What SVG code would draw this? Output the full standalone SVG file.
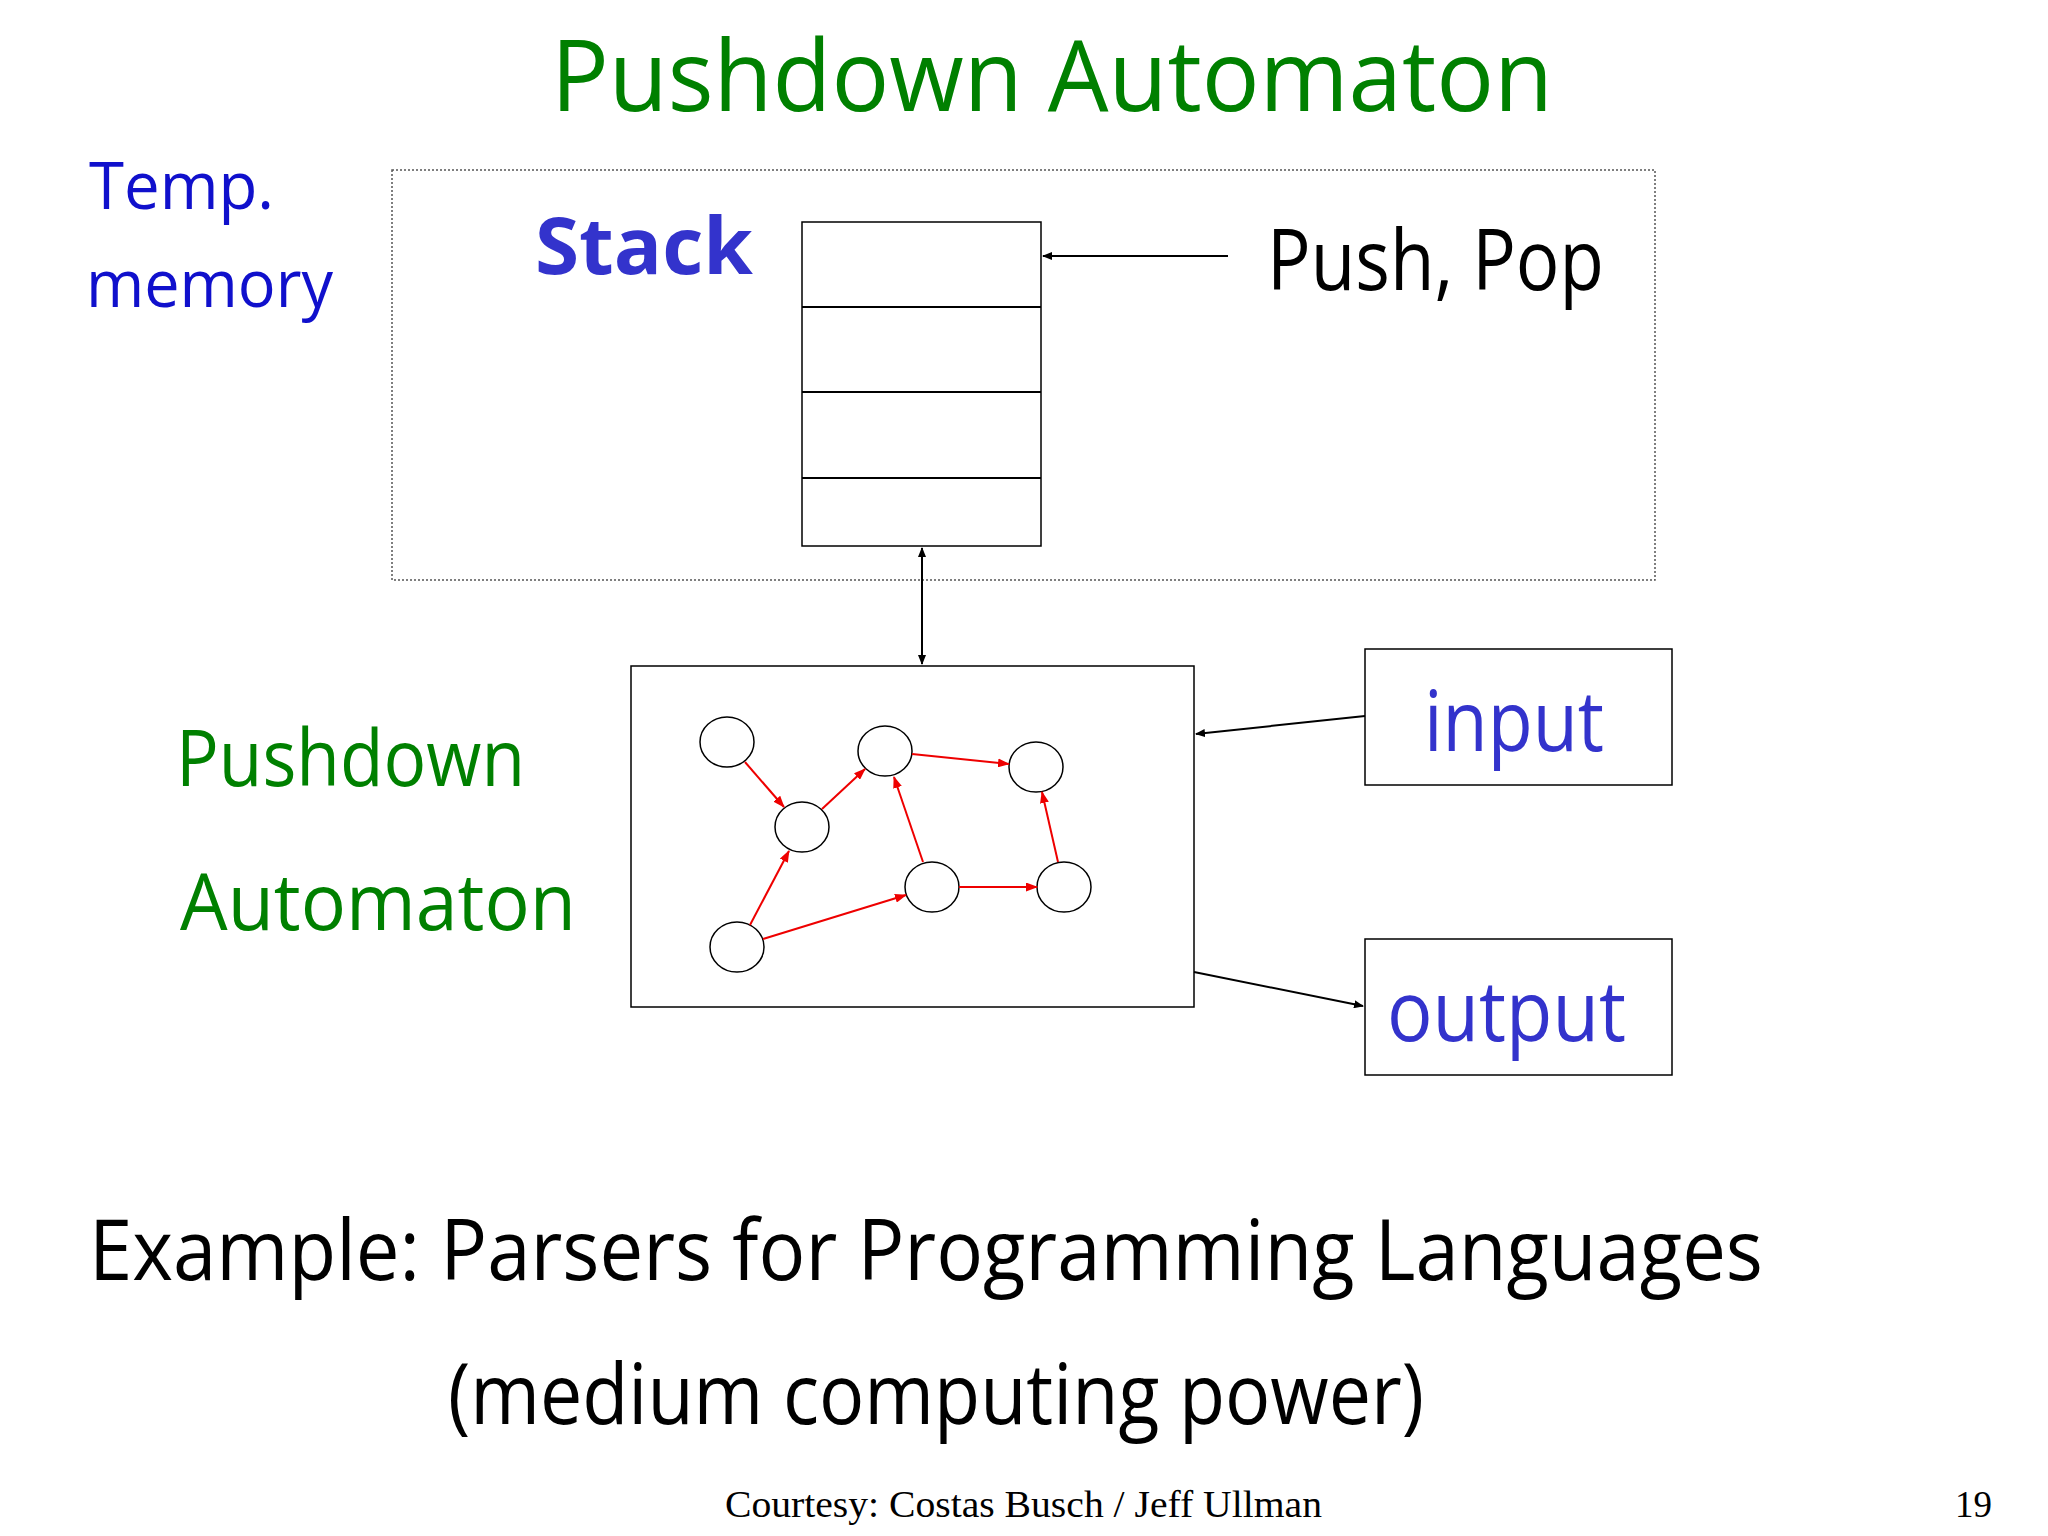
<svg xmlns="http://www.w3.org/2000/svg" width="2048" height="1536" viewBox="0 0 2048 1536">
<defs>
<marker id="ab" markerWidth="10" markerHeight="8" refX="9" refY="4" orient="auto-start-reverse" markerUnits="userSpaceOnUse"><path d="M0,0 L10,4 L0,8 z" fill="#000"/></marker>
<marker id="ar" markerWidth="12" markerHeight="9" refX="11" refY="4.5" orient="auto" markerUnits="userSpaceOnUse"><path d="M0,0 L12,4.5 L0,9 z" fill="#e00"/></marker>
</defs>
<style>
text{font-family:"Open Sans","DejaVu Sans",sans-serif}
.g{fill:#008000}.b{fill:#1010cc}.bb{fill:#3333cc}
.box{fill:none;stroke:#000;stroke-width:1.5}
.st{fill:#fff;stroke:#000;stroke-width:1.5}
.bl{stroke:#000;stroke-width:2;fill:none}
.rd{stroke:#e00;stroke-width:2;fill:none;marker-end:url(#ar)}
</style>
<rect width="2048" height="1536" fill="#fff"/>
<text x="551" y="111" font-size="98" class="g" textLength="1002" lengthAdjust="spacingAndGlyphs">Pushdown Automaton</text>
<text x="89" y="209" font-size="65" class="b" textLength="185" lengthAdjust="spacingAndGlyphs">Temp.</text>
<text x="86" y="307" font-size="65" class="b" textLength="247" lengthAdjust="spacingAndGlyphs">memory</text>
<rect x="392" y="170" width="1263" height="410" fill="none" stroke="#555" stroke-width="1.5" stroke-dasharray="2,2"/>
<g id="stack">
<text x="535" y="274" font-size="78" font-weight="bold" class="bb" textLength="218" lengthAdjust="spacingAndGlyphs">Stack</text>
<rect x="802" y="222" width="239" height="324" class="st"/>
<line x1="802" y1="307" x2="1041" y2="307" class="bl" stroke-width="1.5"/>
<line x1="802" y1="392" x2="1041" y2="392" class="bl" stroke-width="1.5"/>
<line x1="802" y1="478" x2="1041" y2="478" class="bl" stroke-width="1.5"/>
</g>
<text id="pushpop" x="1267" y="290" font-size="85" fill="#000" textLength="337" lengthAdjust="spacingAndGlyphs">Push, Pop</text>
<g id="automaton">
<rect x="631" y="666" width="563" height="341" class="box"/>
<ellipse cx="727" cy="742" rx="27" ry="25" class="st"/>
<ellipse cx="802" cy="827" rx="27" ry="25" class="st"/>
<ellipse cx="885" cy="751" rx="27" ry="25" class="st"/>
<ellipse cx="1036" cy="767" rx="27" ry="25" class="st"/>
<ellipse cx="932" cy="887" rx="27" ry="25" class="st"/>
<ellipse cx="1064" cy="887" rx="27" ry="25" class="st"/>
<ellipse cx="737" cy="947" rx="27" ry="25" class="st"/>
<line x1="745" y1="762" x2="784" y2="807" class="rd"/>
<line x1="822" y1="809" x2="865" y2="769" class="rd"/>
<line x1="912" y1="754" x2="1009" y2="764" class="rd"/>
<line x1="923" y1="862" x2="894" y2="777" class="rd"/>
<line x1="959" y1="887" x2="1037" y2="887" class="rd"/>
<line x1="1058" y1="862" x2="1042" y2="792" class="rd"/>
<line x1="750" y1="925" x2="789" y2="851" class="rd"/>
<line x1="763" y1="939" x2="906" y2="895" class="rd"/>
</g>
<text x="176" y="786" font-size="78" class="g" textLength="349" lengthAdjust="spacingAndGlyphs">Pushdown</text>
<text x="180" y="930" font-size="78" class="g" textLength="396" lengthAdjust="spacingAndGlyphs">Automaton</text>
<g id="input"><rect x="1365" y="649" width="307" height="136" class="box"/>
<text x="1424" y="751" font-size="85" class="bb" textLength="180" lengthAdjust="spacingAndGlyphs">input</text></g>
<g id="output"><rect x="1365" y="939" width="307" height="136" class="box"/>
<text x="1387" y="1041" font-size="85" class="bb" textLength="239" lengthAdjust="spacingAndGlyphs">output</text></g>
<g id="connectors">
<line x1="1228" y1="256" x2="1043" y2="256" class="bl" marker-end="url(#ab)"/>
<line x1="922" y1="548" x2="922" y2="664" class="bl" marker-start="url(#ab)" marker-end="url(#ab)"/>
<line x1="1365" y1="716" x2="1196" y2="734" class="bl" marker-end="url(#ab)"/>
<line x1="1194" y1="972" x2="1363" y2="1006" class="bl" marker-end="url(#ab)"/>
</g>
<text x="89" y="1280" font-size="85" fill="#000" textLength="1674" lengthAdjust="spacingAndGlyphs">Example: Parsers for Programming Languages</text>
<text x="448" y="1424" font-size="85" fill="#000" textLength="976" lengthAdjust="spacingAndGlyphs">(medium computing power)</text>
<text x="725" y="1517" font-size="37" fill="#000" style="font-family:'Liberation Serif',serif" textLength="597" lengthAdjust="spacingAndGlyphs">Courtesy: Costas Busch / Jeff Ullman</text>
<text x="1955" y="1517" font-size="37" fill="#000" style="font-family:'Liberation Serif',serif">19</text>
</svg>
